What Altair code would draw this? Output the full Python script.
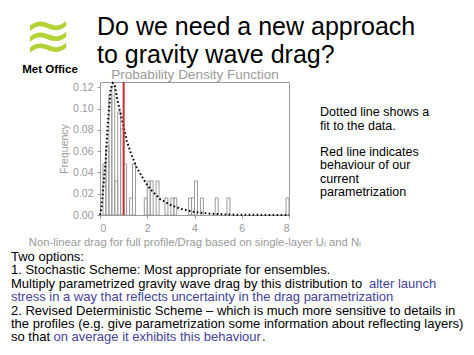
import altair as alt
import pandas as pd

# ---------------- data ----------------
bin_left = [0.125, 0.25, 0.375, 0.5, 0.625, 0.75, 0.875, 1.0, 1.25, 1.375,
            1.875, 2.0, 2.125, 2.375, 2.75, 3.0, 3.125, 3.75, 3.875, 4.0,
            4.25, 4.875, 5.375, 7.875]
bin_right = [0.25, 0.375, 0.5, 0.625, 0.75, 0.875, 1.0, 1.125, 1.375, 1.5,
             2.0, 2.125, 2.25, 2.5, 2.875, 3.125, 3.25, 3.875, 4.0, 4.125,
             4.375, 5.0, 5.5, 8.0]
freq = [0.048, 0.065, 0.113, 0.121, 0.032, 0.097, 0.081, 0.048, 0.016, 0.048,
        0.016, 0.032, 0.032, 0.032, 0.016, 0.016, 0.016, 0.016, 0.016, 0.032,
        0.016, 0.016, 0.016, 0.016]

fit_x = [0, 0.07, 0.14, 0.24, 0.32, 0.4, 0.45, 0.54, 0.63, 0.73, 0.85, 1.0,
         1.13, 1.34, 1.55, 1.83, 2.1, 2.54, 2.96, 3.39, 3.95, 4.65, 5.36,
         6.0, 7.0, 8.0]
fit_y = [0, 0.0075, 0.026, 0.051, 0.083, 0.104, 0.118, 0.124, 0.122, 0.109,
         0.097, 0.083, 0.07, 0.056, 0.045, 0.034, 0.025, 0.015, 0.0097, 0.006,
         0.003, 0.0012, 0.0005, 0.0002, 0.0001, 0]

current_param = [1.0]

x_ticks = [0, 2, 4, 6, 8]
y_ticks = [0.0, 0.02, 0.04, 0.06, 0.08, 0.10, 0.12]

plot_title = "Probability Density Function"
x_title = "Non-linear drag for full profile/Drag based on single-layer U\u2097 and N\u2097"
y_title = "Frequency"

title_lines = ["Do we need a new approach", "to gravity wave drag?"]
side_lines = ["Dotted line shows a", "fit to the data.",
              "Red line indicates", "behaviour of our", "current", "parametrization"]
body_lines = [
    "Two options:",
    "1. Stochastic Scheme: Most appropriate for ensembles.",
    "Multiply parametrized gravity wave drag by this distribution to",
    "",
    "2. Revised Deterministic Scheme \u2013 which is much more sensitive to details in",
    "the profiles (e.g. give parametrization some information about reflecting layers)",
    "so that",
]
blue_parts = ["alter launch",
              "stress in a way that reflects uncertainty in the drag parametrization",
              "on average it exhibits this behaviour"]

# ---------------- layout (pixels) ----------------
PL, PT, PW, PH = 100, 82, 189, 133
GREY = "#9a9a9a"
BLUE = "#45449a"
FONT = "Liberation Sans"

xscale = alt.Scale(domain=[0, 8], nice=False, zero=False)
yscale = alt.Scale(domain=[0, 0.125], nice=False)

xaxis = alt.Axis(values=x_ticks, title=x_title, grid=False, tickSize=3,
                 labelPadding=5, titlePadding=3, labelFontSize=10.5,
                 titleFontSize=11.3, titleFontWeight="normal",
                 labelColor=GREY, titleColor=GREY, domainColor=GREY,
                 tickColor=GREY, labelFont=FONT, titleFont=FONT,
                 labelOverlap=False)
yaxis = alt.Axis(values=y_ticks, format=".2f", title=y_title, grid=False,
                 tickSize=3, labelPadding=4, titlePadding=3,
                 labelFontSize=10.5, titleFontSize=10.5,
                 titleFontWeight="normal", labelColor=GREY,
                 titleColor=GREY, domainColor=GREY, tickColor=GREY,
                 labelFont=FONT, titleFont=FONT, labelOverlap=False,
                 labelFlush=False, labelBound=False)

bars_df = pd.DataFrame({"x0": bin_left, "x1": bin_right, "f": freq})
bars = alt.Chart(bars_df).mark_rect(
    fill="white", fillOpacity=0, stroke=GREY, strokeWidth=1
).encode(
    x=alt.X("x0:Q", scale=xscale, axis=xaxis),
    x2="x1:Q",
    y=alt.Y("f:Q", scale=yscale, axis=yaxis),
    y2=alt.datum(0),
)

fit_df = pd.DataFrame({"x": fit_x, "y": fit_y})
fit = alt.Chart(fit_df).mark_line(
    color="black", strokeDash=[1.6, 2.4], strokeWidth=2, strokeCap="butt"
).encode(x=alt.X("x:Q", scale=xscale, axis=xaxis),
         y=alt.Y("y:Q", scale=yscale, axis=yaxis))

red = alt.Chart(pd.DataFrame({"x": current_param})).mark_rule(
    color="#c0302f", strokeWidth=2
).encode(x=alt.X("x:Q", scale=xscale, axis=xaxis))


def text_layer(texts, xs, ys, size, color, align="left", baseline="alphabetic",
               weight="normal", font=FONT):
    df = pd.DataFrame({"t": texts, "px": xs, "py": ys})
    return alt.Chart(df).mark_text(
        align=align, baseline=baseline, fontSize=size, color=color,
        fontWeight=weight, font=font
    ).encode(
        x=alt.X("px:Q", scale=None, axis=None),
        y=alt.Y("py:Q", scale=None, axis=None),
        text="t:N",
    )


# coordinates below are relative to the plot origin (PL, PT)
layers = [bars, fit, red]
layers.append(text_layer([plot_title], [195 - PL], [75 - PT], 13.5, GREY,
                         align="center", baseline="middle"))
layers.append(text_layer(title_lines, [97 - PL, 97 - PL], [35 - PT, 63 - PT], 25, "black"))
layers.append(text_layer(["Met Office"], [50 - PL], [73 - PT], 11.5, "black",
                         align="center", weight="bold"))
layers.append(text_layer(["\u224b"], [48 - PL], [39 - PT], 58, "#b3d236",
                         align="center", baseline="middle", font="DejaVu Sans"))
side_y = [112, 125.5, 152, 165.3, 178.6, 192]
layers.append(text_layer(side_lines, [320 - PL] * 6, [y - PT for y in side_y], 12.5,
                         "black", baseline="middle"))
body_y = [257, 270.4, 283.8, 297.2, 310.6, 324, 337.4]
body_txt = [t for t in body_lines if t]
body_ys = [y for t, y in zip(body_lines, body_y) if t]
layers.append(text_layer(body_txt, [11 - PL] * len(body_txt),
                         [y - PT for y in body_ys], 13, "black", baseline="middle"))
layers.append(text_layer(blue_parts, [369 - PL, 11 - PL, 53.5 - PL],
                         [body_y[2] - PT, body_y[3] - PT, body_y[6] - PT], 13,
                         BLUE, baseline="middle"))
layers.append(text_layer(["."], [262 - PL], [body_y[6] - PT], 13, "black",
                         baseline="middle"))

chart = alt.layer(*layers).properties(
    width=PW, height=PH,
    autosize=alt.AutoSizeParams(type="none"),
    padding={"left": PL, "top": PT, "right": 474 - PL - PW, "bottom": 355 - PT - PH},
    background="white",
).configure_view(stroke=GREY, strokeWidth=1).configure_axis(labelOverlap=False)

chart.save("out.html", embed_options={"renderer": "svg", "actions": False})
